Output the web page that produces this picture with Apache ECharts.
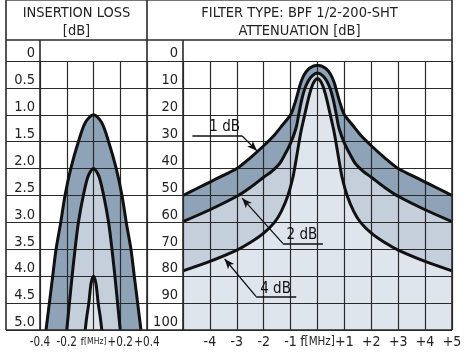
<!DOCTYPE html>
<html><head><meta charset="utf-8">
<script src="https://cdn.jsdelivr.net/npm/echarts@6/dist/echarts.min.js"></script>
<style>html,body{margin:0;padding:0;background:#fff}#c{width:474px;height:353px}</style>
</head><body><div id="c"></div>
<script>
// ---------- DATA ----------
// Left panel: insertion loss [dB] vs frequency offset [MHz]
const leftFreqA = [-0.355,-0.33,-0.305,-0.28,-0.245,-0.213,-0.17,-0.113,-0.06,0,0.06,0.113,0.17,0.213,0.245,0.28,0.305,0.33,0.355];
const leftLossA = [5.0,4.5,4.0,3.5,3.0,2.5,2.0,1.5,1.14,1.0,1.14,1.5,2.0,2.5,3.0,3.5,4.0,4.5,5.0];
const leftFreqB = [-0.2,-0.18,-0.16,-0.138,-0.113,-0.076,-0.04,0,0.04,0.076,0.113,0.138,0.16,0.18,0.2];
const leftLossB = [5.0,4.5,4.0,3.5,3.0,2.5,2.14,2.0,2.14,2.5,3.0,3.5,4.0,4.5,5.0];
const leftFreqC = [-0.062,-0.05,-0.035,-0.018,0,0.018,0.035,0.05,0.062];
const leftLossC = [5.0,4.75,4.5,4.13,4.0,4.13,4.5,4.75,5.0];

// Right panel: attenuation [dB] vs frequency offset [MHz]
const att1Freq = [-5,-4.5,-4,-3.5,-3,-2.5,-2,-1.6,-1.3,-1,-0.85,-0.72,-0.62,-0.5,-0.3,0,0.3,0.5,0.62,0.72,0.85,1,1.3,1.6,2,2.5,3,3.5,4,4.5,5];
const att1dB   = [50,47.5,45,42.5,40,36,31.5,27.5,23.8,20,16,11.5,8,5.2,2.7,1.6,2.7,5.2,8,11.5,16,20,23.8,27.5,31.5,36,40,42.5,45,47.5,50];
const att2Freq = [-5,-4,-3,-2.5,-2,-1.7,-1.4,-1.2,-1,-0.8,-0.7,-0.6,-0.48,-0.35,-0.2,0,0.2,0.35,0.48,0.6,0.7,0.8,1,1.2,1.4,1.7,2,2.5,3,4,5];
const att2dB   = [59.7,55.3,50.3,47,43.2,41,38,34.5,30.5,25,20,15,10.5,7.5,5.5,4.5,5.5,7.5,10.5,15,20,25,30.5,34.5,38,41,43.2,47,50.3,55.3,59.7];
const att4Freq = [-5,-4,-3,-2.5,-2,-1.6,-1.35,-1.1,-0.92,-0.8,-0.7,-0.6,-0.52,-0.42,-0.3,-0.2,-0.1,0,0.1,0.2,0.3,0.42,0.52,0.6,0.7,0.8,0.92,1.1,1.35,1.6,2,2.5,3,4,5];
const att4dB   = [78,74.5,70.3,67.5,64,60,56,50,43.5,37,31,25.5,22,17.5,12.5,9.3,7.3,6.5,7.3,9.3,12.5,17.5,22,25.5,31,37,43.5,50,56,60,64,67.5,70.3,74.5,78];

// Tick labels
const leftXTicks   = [-0.4,-0.2,0,0.2,0.4];
const leftXLabels  = ['-0.4','-0.2','f[MHz]','+0.2','+0.4'];
const rightXLabels = ['','-4','-3','-2','-1','f[MHz]','+1','+2','+3','+4','+5'];
const leftYLabels  = ['0','0.5','1.0','1.5','2.0','2.5','3.0','3.5','4.0','4.5','5.0'];
const rightYLabels = ['0','10','20','30','40','50','60','70','80','90','100'];

// Titles
const leftTitle  = 'INSERTION LOSS\n[dB]';
const rightTitle = 'FILTER TYPE: BPF 1/2-200-SHT\nATTENUATION [dB]';

// Curve annotations (data units of right panel): text, text anchor, underline, arrow tip
const annText  = ['1 dB','2 dB','4 dB'];
const annPos   = [[-3.45,24.7],[-0.58,64.6],[-1.56,84.7]];
const annUnder = [[[-4.65,27.9],[-2.8,27.9]],[[0.2,67.8],[-1.29,67.8]],[[-0.79,87.6],[-2.28,87.6]]];
const annTip   = [[-2.25,33.4],[-2.8,51],[-3.45,73.6]];

// ---------- LAYOUT ----------
const FONT = '"DejaVu Sans Condensed", "DejaVu Sans", sans-serif';
const L = {outerL:6, headerB:40, plotTop:61, bottom:330, lcol:40, mid:147, rcol:183, right:452};
const GRID = '#2a2a2a';
const C_MED = '#8ea2b8', C_LIGHT = '#c4cfdb', C_PALE = '#dfe5ec';
const UNIT = 'f[MHz]';

const pairs = (xs, ys) => xs.map((x, i) => [x, ys[i]]);
function fill(ai, xs, ys, color) {
  return {type:'line', xAxisIndex:ai, yAxisIndex:ai, data:pairs(xs, ys), smooth:0.3, symbol:'none',
    lineStyle:{width:0, opacity:0}, areaStyle:{color:color, opacity:1, origin:'end'}, z:1, silent:true};
}
function curve(ai, xs, ys) {
  return {type:'line', xAxisIndex:ai, yAxisIndex:ai, data:pairs(xs, ys), smooth:0.3, symbol:'none',
    lineStyle:{width:3, color:'#111', join:'round'}, z:5, silent:true};
}
function lab(arr, min, step) {
  return v => arr[Math.round((v - min) / step)] ?? '';
}
const splitLine = {show:true, lineStyle:{color:GRID, width:1.2}};

function xAx(gi, min, max, step, arr, showLabels) {
  return {type:'value', gridIndex:gi, min, max, interval:step, z:3,
    axisLine:{show:false}, axisTick:{show:false}, splitLine,
    axisLabel:{show:showLabels, margin:5, color:'#222', fontFamily:FONT, fontSize:14, hideOverlap:false,
      showMinLabel:true, showMaxLabel:true,
      formatter: v => { const t = lab(arr, min, step)(v); return t === UNIT ? '{f|f}{u|[MHz]}' : t; },
      rich:{f:{fontSize:14, fontFamily:FONT, color:'#222'}, u:{fontSize:11.5, fontFamily:FONT, color:'#222'}}}};
}
function yAx(gi, max, step, arr) {
  return {type:'value', gridIndex:gi, inverse:true, min:0, max, interval:step, z:3,
    axisLine:{show:false}, axisTick:{show:false}, splitLine,
    axisLabel:{show:!!arr, margin:5, color:'#222', fontFamily:FONT, fontSize:14.5, verticalAlign:'bottom',
      hideOverlap:false, showMinLabel:true, showMaxLabel:true, formatter: arr ? lab(arr, 0, step) : undefined}};
}
function blankX(gi) {
  return {type:'value', gridIndex:gi, min:0, max:1, axisLine:{show:false}, axisTick:{show:false},
    splitLine:{show:false}, axisLabel:{show:false}};
}

const H = L.bottom - L.plotTop;
const frame = [
  [L.outerL, 0.5, L.right, 0.5],
  [L.outerL, L.headerB, L.right, L.headerB],
  [L.outerL, L.bottom, L.right, L.bottom],
  [L.outerL, 0, L.outerL, L.bottom],
  [L.mid, 0, L.mid, L.bottom],
  [L.right, 0, L.right, L.bottom],
  [L.lcol, L.headerB, L.lcol, L.bottom],
  [L.rcol, L.headerB, L.rcol, L.bottom]
].map((s, i) => ({type:'line', z:10, silent:true,
  shape:{x1:s[0], y1:s[1], x2:s[2], y2:s[3]},
  style:{stroke: i === 0 ? '#777' : GRID, lineWidth: i === 0 ? 1 : 1.6}}));

const titles = [
  {x:(L.outerL + L.mid) / 2, text:leftTitle},
  {x:(L.mid + L.right) / 2, text:rightTitle}
].map(t => ({type:'text', z:10, silent:true, x:t.x, y:22,
  style:{text:t.text, align:'center', verticalAlign:'middle', textAlign:'center', textVerticalAlign:'middle',
    fontFamily:FONT, fontSize:14.5, lineHeight:18, fill:'#222'}}));

const option = {
  animation:false,
  backgroundColor:'#fff',
  grid:[
    {left:L.lcol, top:L.plotTop, width:L.mid - L.lcol, height:H},
    {left:L.rcol, top:L.plotTop, width:L.right - L.rcol, height:H},
    {left:L.outerL, top:L.plotTop, width:L.lcol - L.outerL, height:H},
    {left:L.mid, top:L.plotTop, width:L.rcol - L.mid, height:H}
  ],
  xAxis:[
    xAx(0, -0.4, 0.4, 0.2, leftXLabels, false),
    xAx(1, -5, 5, 1, rightXLabels, true),
    blankX(2), blankX(3)
  ],
  yAxis:[
    yAx(0, 5, 0.5, leftYLabels),
    yAx(1, 100, 10, rightYLabels),
    yAx(2, 5, 0.5, null),
    yAx(3, 100, 10, null)
  ],
  series:[
    fill(0, leftFreqA, leftLossA, C_MED),
    fill(0, leftFreqB, leftLossB, C_LIGHT),
    fill(0, leftFreqC, leftLossC, C_PALE),
    curve(0, leftFreqA, leftLossA),
    curve(0, leftFreqB, leftLossB),
    curve(0, leftFreqC, leftLossC),
    fill(1, att1Freq, att1dB, C_MED),
    fill(1, att2Freq, att2dB, C_LIGHT),
    fill(1, att4Freq, att4dB, C_PALE),
    curve(1, att1Freq, att1dB),
    curve(1, att2Freq, att2dB),
    curve(1, att4Freq, att4dB),
    {type:'line', xAxisIndex:1, yAxisIndex:1, data:[], z:6, silent:true,
      markLine:{silent:true, symbol:['none','none'], label:{show:false},
        lineStyle:{color:'#111', width:1.5, type:'solid'},
        data: annUnder.map(u => [{coord:u[0]}, {coord:u[1]}])},
      markPoint:{silent:true, symbol:'circle', symbolSize:0, itemStyle:{color:'transparent'},
        label:{show:true, position:'inside', formatter:'{b}', color:'#111', fontFamily:FONT, fontSize:15},
        data: annText.map((t, i) => ({name:t, coord:annPos[i]}))}},
    {type:'line', xAxisIndex:1, yAxisIndex:1, data:[], z:6, silent:true,
      markLine:{silent:true, symbol:['none','arrow'], symbolSize:[6,10], label:{show:false},
        lineStyle:{color:'#111', width:1.3, type:'solid'},
        data: annUnder.map((u, i) => [{coord:u[1]}, {coord:annTip[i]}])}}
  ],
  graphic: frame.concat(titles)
};
const chart = echarts.init(document.getElementById('c'), null, {renderer:'canvas'});
chart.setOption(option);

// Left frequency-axis tick labels: tightly packed (condensed), placed through the axis scale
const leftTickText = leftXTicks.map((v, i) => {
  const isUnit = leftXLabels[i] === UNIT;
  return {type:'text', z:10, silent:true, x:chart.convertToPixel({xAxisIndex:0}, v), y:L.bottom + 12,
    scaleX: isUnit ? 1 : 0.8,
    style:{text: isUnit ? '{f|f}{u|[MHz]}' : leftXLabels[i], align:'center', verticalAlign:'middle',
      textAlign:'center', textVerticalAlign:'middle', fontFamily:FONT, fontSize:14.5, fill:'#222',
      rich:{f:{fontSize:11, fontFamily:FONT, fill:'#222', color:'#222'}, u:{fontSize:8.5, fontFamily:FONT, fill:'#222', color:'#222'}}}};
});
chart.setOption({graphic: frame.concat(titles).concat(leftTickText)});
</script></body></html>
